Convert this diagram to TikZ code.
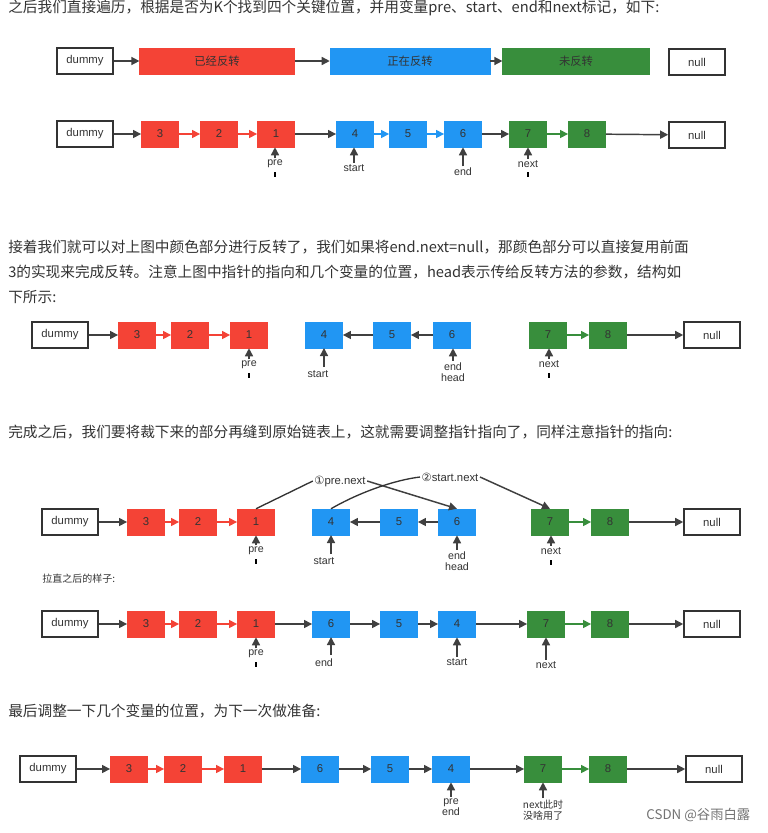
\documentclass[tikz,border=0pt]{standalone}
\usepackage{fontspec}
\setmainfont{Liberation Sans}
\newfontfamily\cjk{Noto Sans CJK SC}
\usetikzlibrary{arrows.meta}
\definecolor{cr}{HTML}{F44336}
\definecolor{cb}{HTML}{2196F3}
\definecolor{cg}{HTML}{388E3C}
\definecolor{tx}{HTML}{333333}
\tikzset{
 bx/.style={draw=#1,fill=#1,minimum height=19.5pt,inner sep=0pt,font=\fontsize{8.5}{9}\selectfont,text=tx},
 wb/.style={draw=black!80,line width=1.2pt,fill=white,minimum width=42pt,minimum height=19.5pt,inner sep=0pt,font=\fontsize{8.5}{9}\selectfont,text=tx},
 nb/.style={bx=#1,minimum width=28pt},
 ar/.style={-{Triangle[length=6pt,width=6pt]},line width=1.1pt,draw=#1},
 ar/.default={black!75},
 lb/.style={font=\fontsize{8}{8.5}\selectfont,text=tx,inner sep=1pt},
 para/.style={font=\cjk\fontsize{11}{13}\selectfont,anchor=west,text=tx,inner sep=0pt},
}
\begin{document}
\begin{tikzpicture}[x=0.75pt,y=-0.75pt]
\useasboundingbox (0,0) rectangle (768,833);
\fill[white] (0,0) rectangle (768,833);
\node[para] at (8,8) {之后我们直接遍历，根据是否为K个找到四个关键位置，并用变量pre、start、end和next标记，如下:};
% row1
\node[wb] (d1) at (85,61) {dummy};
\node[bx=cr,minimum width=116pt] (A) at (217,61) {\cjk 已经反转};
\node[bx=cb,minimum width=120pt] (B) at (410,61) {\cjk 正在反转};
\node[bx=cg,minimum width=110pt] (C) at (576,61) {\cjk 未反转};
\node[wb] (n1) at (697,62) {null};
\draw[ar] (d1)--(A); \draw[ar] (A)--(B); \draw[ar] (B)--(C);
% row2
\node[wb] (d2) at (85,134) {dummy};
\node[nb=cr] (a3) at (160,134) {3};
\node[nb=cr] (a2) at (219,134) {2};
\node[nb=cr] (a1) at (276,134) {1};
\node[nb=cb] (a4) at (355,134) {4};
\node[nb=cb] (a5) at (408,134) {5};
\node[nb=cb] (a6) at (463,134) {6};
\node[nb=cg] (a7) at (528,134) {7};
\node[nb=cg] (a8) at (587,134) {8};
\node[wb] (n2) at (697,135) {null};
\draw[ar] (d2)--(a3); \draw[ar=cr] (a3)--(a2); \draw[ar=cr] (a2)--(a1);
\draw[ar] (a1)--(a4); \draw[ar=cb] (a4)--(a5); \draw[ar=cb] (a5)--(a6);
\draw[ar] (a6)--(a7); \draw[ar=cg] (a7)--(a8); \draw[ar] (a8)--(n2);
\node[lb] (p2) at (275,164) {pre}; \draw[ar] (p2.north)--(p2.north|-a1.south);
\draw[line width=1pt] (275,172)--(275,177);
\node[lb] (s2) at (354,168) {start}; \draw[ar] (s2.north)--(s2.north|-a4.south);
\node[lb] (e2) at (463,172) {end}; \draw[ar] (e2.north)--(e2.north|-a6.south);
\node[lb] (x2) at (528,164) {next}; \draw[ar] (x2.north)--(x2.north|-a7.south);
\draw[line width=1pt] (528,172)--(528,177);
% para2
\node[para] at (8,247) {接着我们就可以对上图中颜色部分进行反转了，我们如果将end.next=null，那颜色部分可以直接复用前面};
\node[para] at (8,272) {3的实现来完成反转。注意上图中指针的指向和几个变量的位置，head表示传给反转方法的参数，结构如};
\node[para] at (8,297) {下所示:};
% row3
\node[wb] (d3) at (60,335) {dummy};
\node[nb=cr] (b3) at (137,335) {3};
\node[nb=cr] (b2) at (190,335) {2};
\node[nb=cr] (b1) at (249,335) {1};
\node[nb=cb] (b4) at (324,335) {4};
\node[nb=cb] (b5) at (392,335) {5};
\node[nb=cb] (b6) at (452,335) {6};
\node[nb=cg] (b7) at (548,335) {7};
\node[nb=cg] (b8) at (608,335) {8};
\node[wb] (n3) at (712,335) {null};
\draw[ar] (d3)--(b3); \draw[ar=cr] (b3)--(b2); \draw[ar=cr] (b2)--(b1);
\draw[ar] (b6)--(b5); \draw[ar] (b5)--(b4);
\draw[ar=cg] (b7)--(b8); \draw[ar] (b8)--(n3);
\node[lb] (p3) at (249,365) {pre}; \draw[ar] (p3.north)--(p3.north|-b1.south);
\draw[line width=1pt] (249,373)--(249,378);
\node[lb] (s3) at (318,374) {start}; \draw[ar] (324,367)--(324,348);
\node[lb,align=center] (e3) at (453,372) {end\\head}; \draw[ar] (e3.north)--(e3.north|-b6.south);
\node[lb] (x3) at (549,364) {next}; \draw[ar] (x3.north)--(x3.north|-b7.south);
\draw[line width=1pt] (549,373)--(549,378);
% para3
\node[para] at (8,432) {完成之后，我们要将裁下来的部分再缝到原始链表上，这就需要调整指针指向了，同样注意指针的指向:};
% row4
\node[wb] (d4) at (70,522) {dummy};
\node[nb=cr] (c3) at (146,522) {3};
\node[nb=cr] (c2) at (198,522) {2};
\node[nb=cr] (c1) at (256,522) {1};
\node[nb=cb] (c4) at (331,522) {4};
\node[nb=cb] (c5) at (399,522) {5};
\node[nb=cb] (c6) at (457,522) {6};
\node[nb=cg] (c7) at (550,522) {7};
\node[nb=cg] (c8) at (610,522) {8};
\node[wb] (n4) at (712,522) {null};
\draw[ar] (d4)--(c3); \draw[ar=cr] (c3)--(c2); \draw[ar=cr] (c2)--(c1);
\draw[ar] (c6)--(c5); \draw[ar] (c5)--(c4);
\draw[ar=cg] (c7)--(c8); \draw[ar] (c8)--(n4);
\node[lb,font=\fontsize{8.5}{9}\selectfont] (L1) at (340,481) {\fontspec{DejaVu Sans}①\fontspec{Liberation Sans}pre.next};
\node[lb,font=\fontsize{8.5}{9}\selectfont] (L2) at (450,477) {\fontspec{DejaVu Sans}②\fontspec{Liberation Sans} start.next};
\draw[line width=1pt,black!80] (c1.north)--(L1.west);
\draw[ar] (L1.east)--(c6.north);
\draw[line width=1pt,black!80] (c4.north) .. controls (360,492) and (395,480) .. (L2.west);
\draw[ar] (L2.east)--(c7.north);
\node[lb] (p4) at (256,551) {pre}; \draw[ar] (p4.north)--(p4.north|-c1.south);
\draw[line width=1pt] (256,559)--(256,564);
\node[lb] (s4) at (324,561) {start}; \draw[ar] (331,554)--(331,535);
\node[lb,align=center] (e4) at (457,561) {end\\head}; \draw[ar] (e4.north)--(e4.north|-c6.south);
\node[lb] (x4) at (551,551) {next}; \draw[ar] (x4.north)--(x4.north|-c7.south);
\draw[line width=1pt] (551,560)--(551,565);
\node[para,font=\cjk\fontsize{7.5}{9}\selectfont] at (42,579) {拉直之后的样子:};
% row5
\node[wb] (d5) at (70,624) {dummy};
\node[nb=cr] (e3b) at (146,624) {3};
\node[nb=cr] (e2b) at (198,624) {2};
\node[nb=cr] (e1b) at (256,624) {1};
\node[nb=cb] (e6b) at (331,624) {6};
\node[nb=cb] (e5b) at (399,624) {5};
\node[nb=cb] (e4b) at (457,624) {4};
\node[nb=cg] (e7b) at (546,624) {7};
\node[nb=cg] (e8b) at (610,624) {8};
\node[wb] (n5) at (712,624) {null};
\draw[ar] (d5)--(e3b); \draw[ar=cr] (e3b)--(e2b); \draw[ar=cr] (e2b)--(e1b);
\draw[ar] (e1b)--(e6b); \draw[ar] (e6b)--(e5b); \draw[ar] (e5b)--(e4b);
\draw[ar] (e4b)--(e7b); \draw[ar=cg] (e7b)--(e8b); \draw[ar] (e8b)--(n5);
\node[lb] (p5) at (256,654) {pre}; \draw[ar] (p5.north)--(p5.north|-e1b.south);
\draw[line width=1pt] (256,662)--(256,667);
\node[lb] (q5) at (324,663) {end}; \draw[ar] (331,655)--(331,637);
\node[lb] (s5) at (457,662) {start}; \draw[ar] (s5.north)--(s5.north|-e4b.south);
\node[lb] (x5) at (546,665) {next}; \draw[ar] (x5.north)--(x5.north|-e7b.south);
% para4
\node[para] at (8,711) {最后调整一下几个变量的位置，为下一次做准备:};
% row6
\node[wb] (d6) at (48,769) {dummy};
\node[nb=cr] (f3) at (129,769) {3};
\node[nb=cr] (f2) at (183,769) {2};
\node[nb=cr] (f1) at (243,769) {1};
\node[nb=cb] (f6) at (320,769) {6};
\node[nb=cb] (f5) at (390,769) {5};
\node[nb=cb] (f4) at (451,769) {4};
\node[nb=cg] (f7) at (543,769) {7};
\node[nb=cg] (f8) at (608,769) {8};
\node[wb] (n6) at (714,769) {null};
\draw[ar] (d6)--(f3); \draw[ar=cr] (f3)--(f2); \draw[ar=cr] (f2)--(f1);
\draw[ar] (f1)--(f6); \draw[ar] (f6)--(f5); \draw[ar] (f5)--(f4);
\draw[ar] (f4)--(f7); \draw[ar=cg] (f7)--(f8); \draw[ar] (f8)--(n6);
\node[lb,align=center] (g6) at (451,807) {pre\\end}; \draw[ar] (g6.north)--(g6.north|-f4.south);
\node[lb,align=center,font=\cjk\fontsize{7.5}{8.5}\selectfont] (h6) at (543,810) {next此时\\没啥用了}; \draw[ar] (h6.north)--(h6.north|-f7.south);
\node[font=\cjk\fontsize{10}{12}\selectfont,text=black!55,anchor=east] at (755,815) {CSDN @谷雨白露};
\end{tikzpicture}
\end{document}
